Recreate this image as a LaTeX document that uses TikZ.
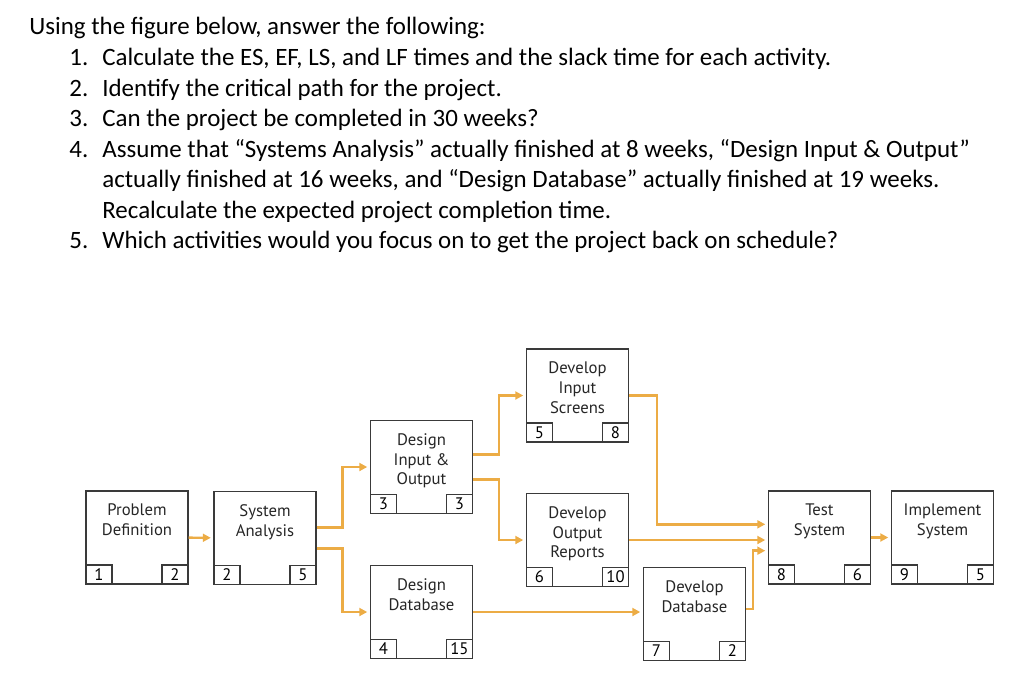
\documentclass[tikz,border=0pt]{standalone}
\usepackage{fontspec}
\setmainfont{Carlito}
\newfontfamily\boxfont{PT Sans}
\usetikzlibrary{arrows.meta, positioning}
\definecolor{arroworange}{HTML}{ECAC45}
\definecolor{boxgray}{HTML}{3A3A3A}
\begin{document}
\begin{tikzpicture}[
    x=0.02cm, y=-0.02cm,
    act/.style={rectangle, draw=boxgray, line width=0.7pt, minimum width=2.04cm, minimum height=1.86cm, inner sep=0},
    acttext/.style={align=center, font=\boxfont\fontsize{9.5}{11.3}\selectfont, text=black!85, inner sep=0},
    num/.style={rectangle, draw=boxgray, line width=0.7pt, minimum width=0.52cm, minimum height=0.38cm, inner sep=0, font=\boxfont\fontsize{9.5}{10}\selectfont},
    flow/.style={-{Triangle[length=4.5pt, width=4.5pt]}, arroworange, line width=1.4pt, shorten >=1.5pt},
    qline/.style={anchor=base west, inner sep=0, font=\fontsize{14.2}{17}\selectfont}
]
\useasboundingbox (0,0) rectangle (1024,684);

% Questions
\node[qline] (head) at (29,34.5) {Using the figure below, answer the following:};
\node[qline] (n1) at (69,65.5) {1.};
\node[qline] (q1) at (102,65.5) {Calculate the ES, EF, LS, and LF times and the slack time for each activity.};
\node[qline] (n2) at (69,96) {2.};
\node[qline] (q2) at (102,96) {Identify the critical path for the project.};
\node[qline] (n3) at (69,126.5) {3.};
\node[qline] (q3) at (102,126.5) {Can the project be completed in 30 weeks?};
\node[qline] (n4) at (69,157) {4.};
\node[qline] (q4a) at (102,157) {Assume that “Systems Analysis” actually finished at 8 weeks, “Design Input \& Output”};
\node[qline] (q4b) at (102,187.5) {actually finished at 16 weeks, and “Design Database” actually finished at 19 weeks.};
\node[qline] (q4c) at (102,218) {Recalculate the expected project completion time.};
\node[qline] (n5) at (69,248.5) {5.};
\node[qline] (q5) at (102,248.5) {Which activities would you focus on to get the project back on schedule?};

% Activities
\foreach \n/\cx/\cy/\txt/\a/\b in {
    pd/137/537.5/{Problem\\Definition}/1/2,
    sa/265/538/{System\\Analysis}/2/5,
    dio/421.5/467/{Design\\Input \&\\Output}/3/3,
    dd/421.5/612/{Design\\Database}/4/15,
    dis/577.5/395.5/{Develop\\Input\\Screens}/5/8,
    dor/577.5/540/{Develop\\Output\\Reports}/6/10,
    ddb/694.5/614/{Develop\\Database}/7/2,
    ts/819.5/537.5/{Test\\System}/8/6,
    is/942.5/537.5/{Implement\\System}/9/5} {
  \node[act] (\n) at (\cx,\cy) {};
  \node[acttext, below=7.5pt of \n.north] (\n-t) {\txt};
  \node[num, anchor=south west] (\n-a) at (\n.south west) {\a};
  \node[num, anchor=south east] (\n-b) at (\n.south east) {\b};
}

% Connections
\draw[flow] (pd) -- (sa);
\draw[flow] ([yshift=6pt]sa.east) -- ++(26,0) |- (dio.west);
\draw[flow] ([yshift=-6pt]sa.east) -- ++(26,0) |- (dd.west);
\draw[flow] ([yshift=7pt]dio.east) -- ++(26,0) |- (dis.west);
\draw[flow] ([yshift=-7pt]dio.east) -- ++(26,0) |- (dor.west);
\draw[flow] (dd.east) -- (dd.east -| ddb.west);
\draw[flow] (dis.east) -- ++(28,0) |- ([yshift=7.5pt]ts.west);
\draw[flow] (dor.east) -- (dor.east -| ts.west);
\draw[flow] ([yshift=3pt]ddb.east) -- ++(7,0) |- ([yshift=-7.5pt]ts.west);
\draw[flow] (ts) -- (is);

\end{tikzpicture}
\end{document}
